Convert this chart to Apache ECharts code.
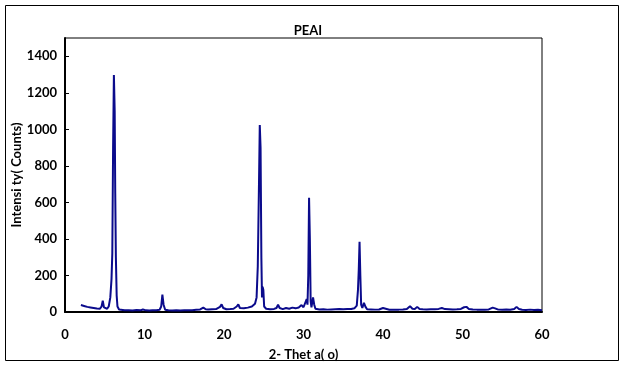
<!DOCTYPE html>
<html>
<head>
<meta charset="utf-8">
<script src="https://cdn.jsdelivr.net/npm/echarts@6/dist/echarts.min.js"></script>
<style>html,body{margin:0;padding:0;background:#fff}#c{width:621px;height:366px}</style>
</head>
<body>
<div id="c"></div>
<script>
const titleText = "PEAI";
const xAxisName = "2- Thet a( o)";
const yAxisName = "Intensi ty( Counts)";
const twoTheta = [2.0,2.2,2.4,2.6,2.8,3.0,3.2,3.4,3.6,3.8,4.0,4.2,4.4,4.6,4.75,4.9,5.1,5.3,5.5,5.7,5.85,5.95,6.05,6.15,6.25,6.32,6.4,6.5,6.6,6.8,7.0,7.5,8.0,8.5,9.0,9.5,9.8,10.0,10.2,10.6,11.0,11.5,11.9,12.1,12.25,12.4,12.6,13.0,13.5,14.0,14.5,15.0,15.5,16.0,16.5,17.0,17.4,17.7,18.0,18.5,19.0,19.5,19.7,19.9,20.3,20.8,21.2,21.6,21.8,22.0,22.5,23.0,23.5,23.9,24.1,24.25,24.4,24.5,24.6,24.7,24.78,24.85,24.95,25.05,25.3,25.8,26.3,26.6,26.8,27.0,27.4,27.8,28.2,28.6,29.0,29.4,29.75,30.0,30.2,30.4,30.5,30.6,30.7,30.8,30.9,31.0,31.2,31.35,31.5,32.0,32.5,33.0,33.5,34.0,34.5,35.0,35.5,36.0,36.4,36.7,36.85,36.95,37.05,37.15,37.25,37.4,37.6,37.8,38.0,38.5,39.0,39.5,40.0,40.2,40.8,41.5,42.0,42.5,43.0,43.4,43.7,44.0,44.3,44.6,45.0,45.5,46.0,46.5,47.0,47.4,47.8,48.3,48.8,49.3,49.8,50.2,50.5,50.8,51.3,51.8,52.3,52.8,53.3,53.8,54.1,54.5,55.0,55.5,56.0,56.5,56.8,57.1,57.5,58.0,58.5,59.0,59.5,60.0];
const counts = [38,36,33,30,28,26,25,23,22,20,19,17,18,30,62,25,16,18,30,80,180,320,900,1297,1100,650,300,90,30,14,10,9,10,8,11,9,14,20,9,8,9,10,12,30,95,40,12,9,8,9,8,9,10,9,12,14,24,15,14,15,16,28,42,22,15,16,18,30,42,22,20,24,30,45,80,250,700,1023,900,300,80,138,120,30,18,15,17,22,40,22,16,22,18,24,20,25,38,26,35,70,40,200,626,400,60,25,80,40,18,14,15,13,14,15,16,15,17,16,20,35,120,230,385,200,40,22,50,28,15,14,13,14,22,13,12,13,13,14,16,32,18,16,28,16,15,14,15,15,17,22,16,15,14,15,17,26,28,17,14,13,13,12,14,24,20,13,12,14,12,16,28,16,12,11,13,11,12,10];
const xTicks = [0,10,20,30,40,50,60];
const yTicks = [0,200,400,600,800,1000,1200,1400];

const font = 'Lato, "Noto Sans", sans-serif';
const chart = echarts.init(document.getElementById('c'));
chart.setOption({
  animation: false,
  backgroundColor: '#fff',
  title: {text: titleText, left: 303, top: 19, textAlign: 'center',
    textStyle: {fontFamily: font, fontWeight: 'bold', fontSize: 13, color: '#000'}},
  graphic: [{type: 'rect', shape: {x: 5.5, y: 5.5, width: 613, height: 355},
    style: {fill: 'none', stroke: '#000', lineWidth: 1}, silent: true}],
  grid: {left: 65, right: 79, top: 38, bottom: 54, containLabel: false, outerBoundsMode: 'none',
    show: true, borderColor: '#000', borderWidth: 1},
  xAxis: {
    type: 'value', min: xTicks[0], max: xTicks[xTicks.length-1], interval: 10,
    name: xAxisName, nameLocation: 'middle', nameGap: 36, nameMoveOverlap: false,
    nameTextStyle: {fontFamily: font, fontWeight: 'bold', fontSize: 13, color: '#000'},
    axisLine: {lineStyle: {color: '#000', width: 2}},
    axisTick: {show: false}, splitLine: {show: false},
    axisLabel: {margin: 16, fontFamily: font, fontWeight: 'bold', fontSize: 13, color: '#000'}
  },
  yAxis: {
    type: 'value', min: 0, max: 1500, interval: 200,
    name: yAxisName, nameLocation: 'middle', nameGap: 42, nameRotate: 90, nameMoveOverlap: false,
    nameTextStyle: {fontFamily: font, fontWeight: 'bold', fontSize: 13, color: '#000'},
    axisLine: {show: true, lineStyle: {color: '#000', width: 2}},
    axisTick: {show: true, inside: true, length: 4, lineStyle: {color: '#000'}},
    splitLine: {show: false},
    axisLabel: {margin: 8, showMaxLabel: false, padding: [10,0,0,0], fontFamily: font, fontWeight: 'bold', fontSize: 13, color: '#000',
      formatter: v => yTicks.includes(v) ? String(v) : ''}
  },
  series: [{
    type: 'line', data: twoTheta.map((x, i) => [x, counts[i]]),
    showSymbol: false, lineStyle: {color: '#0b0b8c', width: 2}, z: 3
  }]
});
</script>
</body>
</html>
